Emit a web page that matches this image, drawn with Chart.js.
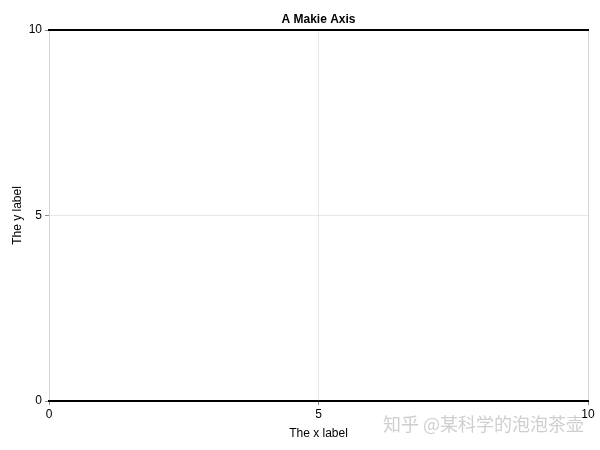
<!DOCTYPE html>
<html>
<head>
<meta charset="utf-8">
<script src="https://cdn.jsdelivr.net/npm/chart.js@4/dist/chart.umd.min.js"></script>
<style>
html,body{margin:0;padding:0;background:#fff;}
canvas{display:block;}
</style>
</head>
<body>
<canvas id="c" width="600" height="450"></canvas>
<script>
const titleText = 'A Makie Axis';
const xLabel = 'The x label';
const yLabel = 'The y label';
const xRange = [0, 10];
const yRange = [0, 10];
const tickStep = 5;
const points = [];
const watermark = '知乎 @某科学的泡泡茶壶';

const FONT = 'Liberation Sans, Arial, sans-serif';
const gridColor = 'rgba(0,0,0,0.09)';

const watermarkPlugin = {
  id: 'watermark',
  afterDraw(chart) {
    const ctx = chart.ctx;
    ctx.save();
    ctx.font = '18px "Noto Sans CJK SC"';
    ctx.fillStyle = 'rgba(160,160,160,0.5)';
    ctx.textAlign = 'right';
    ctx.textBaseline = 'middle';
    ctx.fillText(watermark, 584, 424);
    ctx.restore();
  }
};

new Chart(document.getElementById('c'), {
  type: 'scatter',
  data: { datasets: [{ data: points, pointRadius: 0 }] },
  plugins: [watermarkPlugin],
  options: {
    responsive: false,
    animation: false,
    layout: { padding: { top: 0, left: 0, right: 0, bottom: 0 } },
    plugins: {
      legend: { display: false },
      tooltip: { enabled: false },
      title: {
        display: true,
        fullSize: false,
        text: titleText,
        color: '#000',
        font: { family: FONT, size: 12, weight: 'bold' },
        padding: { top: 12.5, bottom: 3.1 }
      }
    },
    scales: {
      x: {
        type: 'linear', position: 'bottom',
        min: xRange[0], max: xRange[1],
        afterFit(s) { s.height = 49; },
        border: { display: true, color: '#000', width: 2 },
        grid: { color: gridColor, tickLength: 4, tickColor: 'rgba(0,0,0,0.45)', lineWidth: 1 },
        ticks: { stepSize: tickStep, color: '#000', padding: 2, maxRotation: 0,
                 font: { family: FONT, size: 12 } },
        title: { display: true, text: xLabel, color: '#000', padding: { top: 9, bottom: 9 },
                 font: { family: FONT, size: 12 } }
      },
      x2: {
        type: 'linear', position: 'top',
        min: xRange[0], max: xRange[1],
        afterFit(s) { s.height = 0; },
        border: { display: true, color: '#000', width: 2 },
        grid: { display: false },
        ticks: { display: false }
      },
      y: {
        type: 'linear', position: 'left',
        min: yRange[0], max: yRange[1],
        afterFit(s) { s.width = 49; },
        border: { display: true, color: gridColor, width: 1 },
        grid: { color: gridColor, tickLength: 4, tickColor: 'rgba(0,0,0,0.45)', lineWidth: 1 },
        ticks: { stepSize: tickStep, color: '#000', padding: 3,
                 font: { family: FONT, size: 12 } },
        title: { display: true, text: yLabel, color: '#000', padding: { top: 10, bottom: 10 },
                 font: { family: FONT, size: 12 } }
      },
      y2: {
        type: 'linear', position: 'right',
        min: yRange[0], max: yRange[1],
        afterFit(s) { s.width = 12; },
        border: { display: true, color: gridColor, width: 1 },
        grid: { display: false },
        ticks: { display: false }
      }
    }
  }
});
</script>
</body>
</html>
